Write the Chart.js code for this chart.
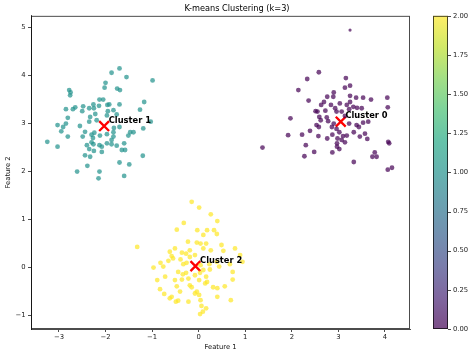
<!DOCTYPE html>
<html>
<head>
<meta charset="utf-8">
<script src="https://cdn.jsdelivr.net/npm/chart.js@4"></script>
<style>
html,body{margin:0;padding:0;background:#fff;}
#wrap{width:474px;height:356px;}
</style>
</head>
<body>
<div id="wrap"><canvas id="c" width="474" height="356"></canvas></div>
<script>
// ---- data ----
const title = 'K-means Clustering (k=3)';
const xLabel = 'Feature 1';
const yLabel = 'Feature 2';
const clusterNames = ['Cluster 0', 'Cluster 1', 'Cluster 2'];

const c0x = [2.58,3.16,2.33,2.14,3.14,3.25,2.36,2.90,3.25,2.76,2.89,2.69,2.63,2.84,3.03,3.25,3.38,3.53,3.70,4.05,4.06,3.18,3.32,3.40,2.93,2.51,2.55,2.96,3.07,3.23,3.50,2.59,2.75,2.62,1.97,2.78,2.53,2.58,2.86,3.23,3.39,3.53,3.64,3.44,2.96,2.39,2.22,1.92,2.57,2.87,3.02,3.10,3.18,3.33,3.46,3.57,3.62,2.76,2.98,3.07,3.14,2.97,2.97,3.02,2.30,1.37,4.07,4.09,2.48,2.87,3.78,2.27,3.73,3.82,3.33,4.15,4.06,2.72,3.14,2.90];
const c0y = [4.06,3.94,3.92,3.69,3.74,3.78,3.47,3.64,3.57,3.55,3.55,3.44,3.38,3.38,3.41,3.44,3.53,3.53,3.49,3.53,3.33,3.38,3.34,3.32,3.31,3.25,3.24,3.24,3.24,3.29,3.31,3.13,3.12,3.06,3.10,3.04,2.96,2.92,2.92,2.99,2.96,3.01,3.03,2.92,2.88,2.84,2.76,2.75,2.73,2.76,2.81,2.73,2.74,2.81,2.72,2.78,2.67,2.68,2.68,2.65,2.60,2.58,2.51,2.46,2.54,2.49,2.61,2.58,2.40,2.39,2.39,2.31,2.30,2.30,2.19,2.07,2.03,3.26,3.15,2.99];
// small stray purple mark near the top
const strayX = [3.25];
const strayY = [4.94];

const c1x = [-1.70,-1.87,-1.55,-0.99,-2.00,-2.02,-1.75,-1.69,-2.78,-2.75,-2.76,-1.17,-2.13,-2.05,-2.26,-1.92,-1.96,-1.70,-2.48,-2.65,-2.70,-2.85,-2.35,-2.25,-2.14,-1.83,-1.26,-2.50,-2.22,-1.95,-1.76,-2.81,-2.33,-2.85,-3.03,-2.91,-2.55,-2.35,-2.19,-1.97,-1.03,-1.19,-1.70,-1.83,-1.97,-2.44,-2.95,-2.81,-2.30,-2.24,-2.27,-2.12,-1.47,-1.40,-1.51,-1.83,-3.25,-3.03,-2.30,-2.26,-2.13,-2.08,-1.97,-1.87,-1.76,-1.60,-2.35,-2.25,-2.08,-1.65,-1.58,-2.44,-2.33,-1.20,-1.70,-1.49,-2.39,-2.61,-2.13,-1.60,-2.15,-1.87,-2.40,-2.49,-1.82];
const c1y = [4.14,4.05,3.96,3.89,3.84,3.74,3.72,3.69,3.69,3.64,3.58,3.44,3.49,3.49,3.39,3.39,3.38,3.39,3.35,3.33,3.29,3.29,3.31,3.31,3.36,3.27,3.28,3.25,3.19,3.25,3.18,3.11,3.13,2.99,2.96,2.92,2.94,3.03,3.06,3.16,3.03,2.89,2.92,2.81,2.77,2.82,2.83,2.72,2.76,2.80,2.69,2.74,2.81,2.81,2.74,2.72,2.61,2.51,2.60,2.56,2.54,2.51,2.58,2.56,2.53,2.58,2.46,2.42,2.40,2.44,2.44,2.33,2.30,2.32,2.18,2.14,2.11,1.99,1.99,1.90,1.85,2.65,2.54,2.72,2.90];

const c2x = [-0.15,0.01,0.26,0.40,-0.32,-0.47,-0.03,0.10,0.18,0.33,0.39,-1.32,-0.23,-0.04,0.04,0.16,0.49,0.78,-0.51,-0.62,-0.36,-0.27,-0.19,0.10,0.26,0.53,-0.58,-0.55,-0.39,-0.19,-0.08,-0.82,-0.65,-0.33,-0.26,0.89,0.94,-0.97,-0.76,0.04,0.23,0.39,0.67,0.24,0.10,-0.44,-0.34,-0.27,-0.08,0.03,0.44,0.73,-0.89,-0.72,-0.51,-0.36,-0.22,0.01,0.16,0.73,-0.83,-0.47,-0.19,-0.15,0.14,0.18,0.31,0.40,0.56,-0.74,-0.58,-0.40,-0.04,0.01,0.40,0.69,-0.62,-0.49,-0.22,0.04,0.06,0.16,0.09,0.03,-0.44,-0.08];
const c2y = [1.36,1.24,1.10,0.96,0.92,0.78,0.77,0.67,0.77,0.77,0.69,0.42,0.53,0.51,0.49,0.49,0.46,0.39,0.39,0.32,0.30,0.28,0.35,0.39,0.35,0.34,0.23,0.18,0.16,0.21,0.25,0.09,0.13,0.06,0.09,0.25,0.11,-0.01,0.01,0.04,0.06,0.11,0.06,-0.05,-0.06,-0.10,-0.15,-0.12,-0.17,-0.12,0.01,-0.10,-0.27,-0.20,-0.27,-0.26,-0.24,-0.27,-0.20,-0.26,-0.46,-0.40,-0.38,-0.42,-0.34,-0.31,-0.42,-0.44,-0.40,-0.56,-0.62,-0.51,-0.51,-0.58,-0.62,-0.69,-0.65,-0.72,-0.72,-0.69,-0.81,-0.86,-0.93,-0.98,-0.70,-0.55];

const centroidX = [3.05, -2.03, -0.07];
const centroidY = [3.03, 2.94, 0.02];

const xTicks = [-3,-2,-1,0,1,2,3,4];
const yTicks = [-1,0,1,2,3,4,5];
const cbTicks = [0,0.25,0.5,0.75,1,1.25,1.5,1.75,2];

// ---- styling ----
const FONT = '"DejaVu Sans", sans-serif';
const viridis = ['#440154','#482475','#414487','#355f8d','#2a788e','#21918c','#22a884','#44bf70','#7ad151','#bddf26','#fde725'];
const clusterColors = ['rgba(68,1,84,0.7)','rgba(33,145,140,0.7)','rgba(253,231,37,0.7)'];

const zip = (xs, ys) => xs.map((x, i) => ({x, y: ys[i]}));
const minus = v => String(v).replace('-', '\u2212');

const overlay = {
  id: 'overlay',
  afterDatasetsDraw(chart) {
    const {ctx, chartArea: a, scales} = chart;
    ctx.save();
    // centroid labels
    ctx.font = 'bold 8.3px ' + FONT;
    ctx.fillStyle = '#000';
    ctx.textAlign = 'left';
    ctx.textBaseline = 'alphabetic';
    centroidX.forEach((cx, i) => {
      ctx.fillText(clusterNames[i], scales.x.getPixelForValue(cx + 0.1), scales.y.getPixelForValue(centroidY[i] + 0.07));
    });
    // axes frame
    ctx.strokeStyle = 'rgba(0,0,0,0.7)';
    ctx.lineWidth = 1;
    ctx.strokeRect(a.left + 0.5, a.top + 0.5, a.width - 1, a.height - 1);
    // colorbar
    const cb = scales.cb;
    const top = cb.getPixelForValue(cb.max), bot = cb.getPixelForValue(cb.min);
    const x0 = a.right + 23, w = 15;
    const g = ctx.createLinearGradient(0, bot, 0, top);
    viridis.forEach((c, i) => g.addColorStop(i / (viridis.length - 1), c));
    ctx.globalAlpha = 0.7;
    ctx.fillStyle = g;
    ctx.fillRect(x0, top, w, bot - top);
    ctx.globalAlpha = 1;
    ctx.strokeStyle = 'rgba(0,0,0,0.7)';
    ctx.strokeRect(x0 + 0.5, top + 0.5, w - 1, bot - top - 1);
    ctx.beginPath();
    cbTicks.forEach(v => {
      const y = Math.round(cb.getPixelForValue(v)) + 0.5;
      ctx.moveTo(x0 + w, y); ctx.lineTo(x0 + w + 3, y);
    });
    ctx.stroke();
    ctx.restore();
  }
};

const tickFont = {family: FONT, size: 6.8};
const axisColor = 'rgba(0,0,0,0.7)';

new Chart(document.getElementById('c'), {
  type: 'scatter',
  data: {
    datasets: [
      {data: zip(c0x, c0y), backgroundColor: clusterColors[0], borderWidth: 0, pointRadius: 2.4},
      {data: zip(strayX, strayY), backgroundColor: clusterColors[0], borderWidth: 0, pointRadius: 1.6},
      {data: zip(c1x, c1y), backgroundColor: clusterColors[1], borderWidth: 0, pointRadius: 2.4},
      {data: zip(c2x, c2y), backgroundColor: clusterColors[2], borderWidth: 0, pointRadius: 2.4},
      {data: zip(centroidX, centroidY), pointStyle: 'crossRot', pointRadius: 7, borderColor: '#ff0000', backgroundColor: '#ff0000', pointBorderWidth: 2.3, borderWidth: 2.3}
    ]
  },
  plugins: [overlay],
  options: {
    responsive: false,
    animation: false,
    events: [],
    layout: {padding: 0},
    plugins: {
      legend: {display: false},
      tooltip: {enabled: false},
      title: {display: true, text: title, color: '#000', font: {family: FONT, size: 8.2, weight: 'normal'}, padding: {top: 4, bottom: 2}}
    },
    scales: {
      x: {
        type: 'linear', min: -3.6, max: 4.537,
        afterFit: s => { s.height = 27; },
        afterBuildTicks: s => { s.ticks = xTicks.map(v => ({value: v})); },
        grid: {drawOnChartArea: false, drawTicks: true, tickLength: 3, tickColor: axisColor},
        border: {display: true, color: axisColor},
        ticks: {font: tickFont, color: '#222', padding: 1.5, maxRotation: 0, callback: v => minus(v)},
        title: {display: true, text: xLabel, color: '#111', font: tickFont, padding: {top: 2, bottom: 5}}
      },
      y: {
        type: 'linear', min: -1.29, max: 5.236,
        afterFit: s => { s.width = 31; },
        afterBuildTicks: s => { s.ticks = yTicks.map(v => ({value: v})); },
        grid: {drawOnChartArea: false, drawTicks: true, tickLength: 3, tickColor: axisColor},
        border: {display: true, color: axisColor},
        ticks: {font: tickFont, color: '#222', padding: 2.5, callback: v => minus(v)},
        title: {display: true, text: yLabel, color: '#111', font: tickFont, padding: {top: 4.2, bottom: 0}}
      },
      cb: {
        type: 'linear', position: 'right', min: 0, max: 2,
        afterFit: s => { s.width = 64; },
        afterBuildTicks: s => { s.ticks = cbTicks.map(v => ({value: v})); },
        grid: {display: true, drawTicks: true, tickLength: 41, drawOnChartArea: false, color: 'rgba(0,0,0,0)', tickColor: 'rgba(0,0,0,0)'},
        border: {display: false},
        ticks: {font: tickFont, color: '#222', padding: 2, callback: v => Number(v).toFixed(2)}
      }
    }
  }
});
</script>
</body>
</html>
